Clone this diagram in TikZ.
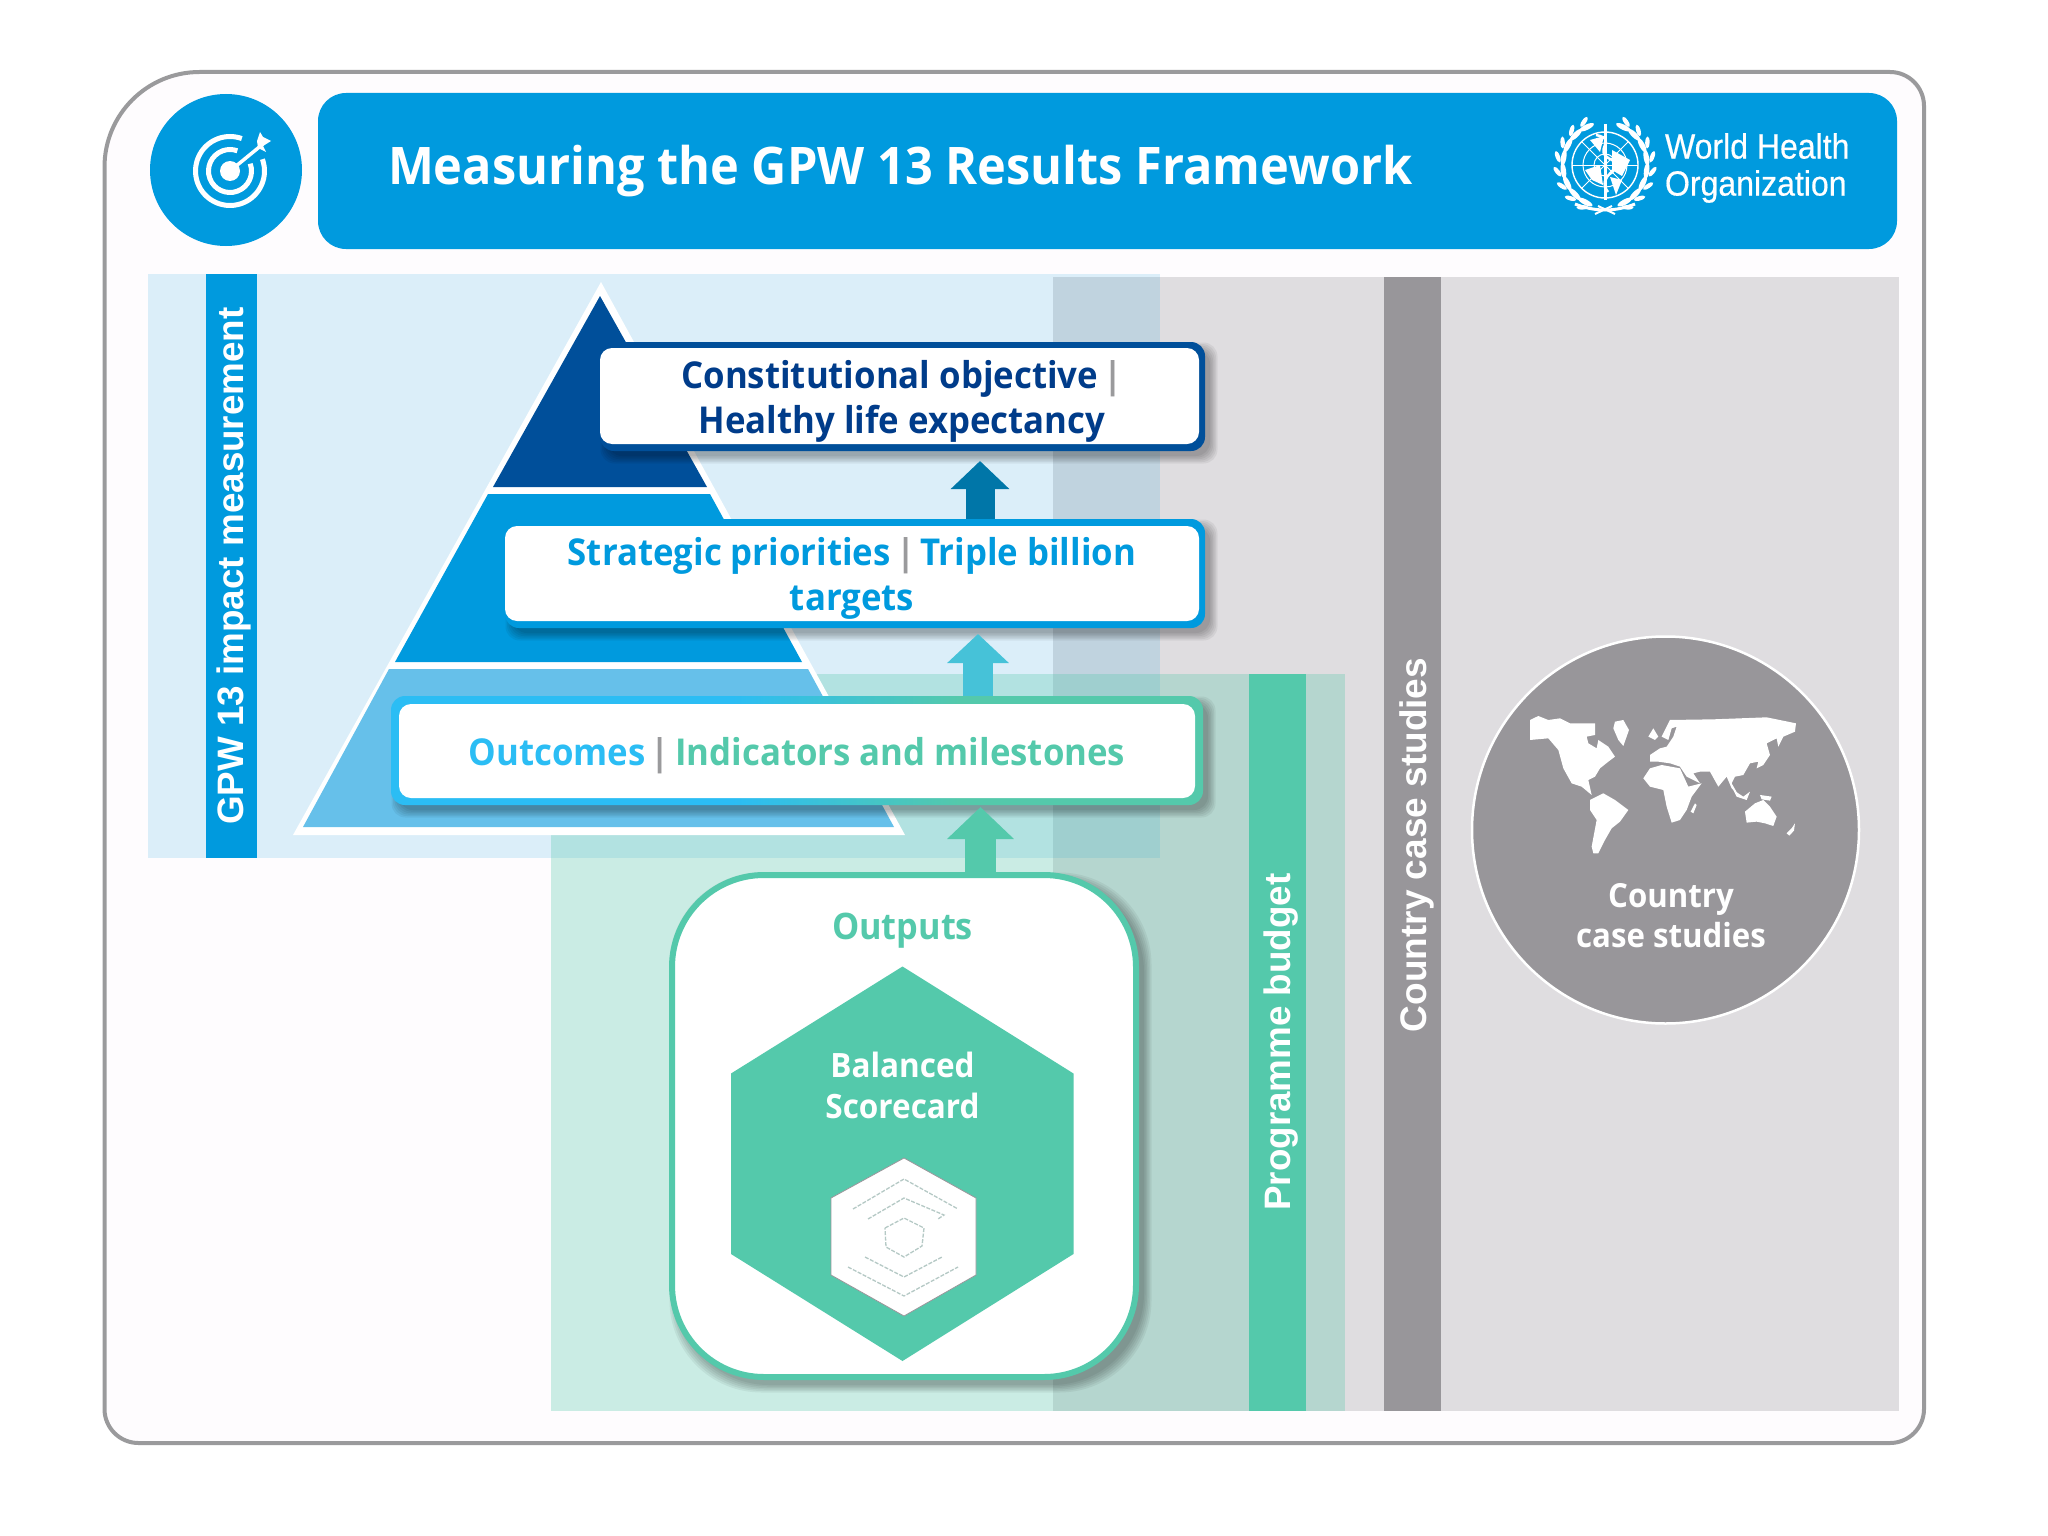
\documentclass[tikz,border=0pt]{standalone}
\usepackage{fontspec}
\setmainfont{Open Sans}[FakeStretch=0.94]
\newfontfamily\arialfont{Liberation Sans}
\newfontfamily\whofont{Liberation Sans}[FakeStretch=0.915,FakeBold=0.5]
\usetikzlibrary{arrows.meta,calc}
\definecolor{whoblue}{HTML}{009ADE}
\definecolor{navy}{HTML}{004F9A}
\definecolor{navytext}{HTML}{003C8A}
\definecolor{skyb}{HTML}{2BBDF4}
\definecolor{lightb}{HTML}{66C0EA}
\definecolor{teal}{HTML}{54C9AB}
\definecolor{greybar}{HTML}{98969A}
\definecolor{greypanel}{HTML}{DFDDE0}
\definecolor{sepgrey}{HTML}{9A9A9C}
\definecolor{framefill}{HTML}{FEFCFE}
\definecolor{arrowone}{HTML}{0076A8}
\definecolor{arrowtwo}{HTML}{46C2D8}
\pgfdeclarehorizontalshading{boxthree}{100bp}{color(0bp)=(skyb); color(46bp)=(skyb); color(60bp)=(teal); color(100bp)=(teal)}
\newcommand{\sepbar}{\hspace{.14em}\textcolor{sepgrey}{|}\hspace{.14em}}
\tikzset{
  flat/.style={draw=none,inner sep=0pt,outer sep=0pt},
  outerbox/.style={flat,rectangle,rounded corners=14pt},
  whitebox/.style={flat,rectangle,rounded corners=12pt,fill=white},
  boxfont/.style={flat,align=center,font=\fontsize{37}{45}\selectfont\bfseries},
  sidelabel/.style={flat,rotate=90,text=white,font=\fontsize{36.8}{40}\selectfont\arialfont\bfseries},
}
\newcommand{\softshadow}[5]{% x1 y1 x2 y2 radius
  \foreach \gr in {0,1.5,...,7.5}{
    \fill[black,opacity=0.055,rounded corners=#5] (#1+8-\gr,#2+8-\gr) rectangle (#3+5+\gr,#4+5+\gr);
  }}
\begin{document}
\begin{tikzpicture}[x=1pt,y=-1pt]
\useasboundingbox (0,0) rectangle (2048,1536);
\fill[white] (0,0) rectangle (2048,1536);
% outer frame
\path[draw=sepgrey,line width=4pt,fill=framefill]
  (104.5,167) arc[start angle=180,end angle=270,radius=95] -- (1890,72)
  arc[start angle=270,end angle=360,radius=34] -- (1924,1409)
  arc[start angle=0,end angle=90,radius=34] -- (138.5,1443)
  arc[start angle=90,end angle=180,radius=34] -- cycle;
% icon
\fill[whoblue] (226,170) circle[radius=76];
\draw[white,line width=5pt] (230,171) ++(-20:34.5) arc[start angle=-20,end angle=290,radius=34.5];
\node[flat,circle,fill=white,minimum size=20pt] (dot) at (230,171) {};
\draw[white,line width=5pt] (230,171) ++(-20:21.5) arc[start angle=-20,end angle=290,radius=21.5];
\coordinate (dart) at (263,144);
\draw[white,line width=3.5pt] (dot.center) -- (dart);
\fill[white] (257,141) -- (260,132) -- (263,137) -- (271,141) -- (263,146) -- (266,152) -- (258,148) -- cycle;
% header
\fill[whoblue,rounded corners=28pt] (318,93) rectangle (1897,249);
\node[flat,anchor=west,text=white,font=\fontsize{51.8}{54}\selectfont\bfseries] (title) at (388,171) {Measuring the GPW 13 Results Framework};
% WHO emblem
\begin{scope}[white]
\draw[line width=1.4pt] (1605,165) circle[radius=33];
\draw[line width=1pt] (1605,165) circle[radius=22];
\draw[line width=1pt] (1605,165) circle[radius=11];
\draw[line width=1pt] (1572,165) -- (1638,165);
\draw[line width=1pt] (1582,142) -- (1628,188);
\draw[line width=1pt] (1628,142) -- (1582,188);
\draw[line width=3pt] (1605,124) -- (1605,200);
\draw[line width=2.5pt] (1596,135) .. controls (1620,140) and (1590,150) .. (1612,160) .. controls (1625,170) and (1595,175) .. (1608,192);
\fill (1585,170) -- (1600,165) -- (1603,185) -- (1592,180) -- cycle;
\fill (1612,150) -- (1630,160) -- (1622,176) -- (1612,170) -- cycle;
\fill (1610,177) -- (1622,180) -- (1616,195) -- cycle;
\fill (1590,140) -- (1604,136) -- (1600,152) -- cycle;
\foreach \a in {-62,-44,-26,-8,10,28,46,64}{
  \fill[shift={({1605+42*cos(\a)},{165-42*sin(\a)})},rotate=\a+90] (0,0) ellipse[x radius=8,y radius=2.7];
  \fill[shift={({1605-42*cos(\a)},{165-42*sin(\a)})},rotate=90-\a] (0,0) ellipse[x radius=8,y radius=2.7];
  \fill[shift={({1605+48*cos(\a)},{165-48*sin(\a)})},rotate=\a+60] (0,0) ellipse[x radius=6,y radius=2.2];
  \fill[shift={({1605-48*cos(\a)},{165-48*sin(\a)})},rotate=120-\a] (0,0) ellipse[x radius=6,y radius=2.2];
}
\draw[line width=3pt] (1575,204) .. controls (1595,212) and (1615,212) .. (1635,204);
\draw[line width=2pt] (1612,206) -- (1595,214);
\draw[line width=2pt] (1598,206) -- (1615,214);
\end{scope}
\node[flat,anchor=west,text=white,align=left,font=\fontsize{35}{37}\selectfont\whofont] (who) at (1665,168) {World Health\\Organization};
% panels
\fill[greypanel] (1053,277) rectangle (1899,1411);
\fill[whoblue,opacity=0.137] (148,274) rectangle (1160,858);
\fill[teal,opacity=0.3] (551,674) rectangle (1345,1411);
\node[flat,fill=whoblue,minimum width=51pt,minimum height=584pt] (gpwbar) at (231.5,566) {};
\node[sidelabel] (gpwtext) at (234,566) {GPW 13 impact measurement};
\node[flat,fill=teal,minimum width=57pt,minimum height=737pt] (pbbar) at (1277.5,1042.5) {};
\node[sidelabel] (pbtext) at (1281,1042) {Programme budget};
\node[flat,fill=greybar,minimum width=57pt,minimum height=1134pt] (ccbar) at (1412.5,844) {};
\node[sidelabel,font=\fontsize{37}{40}\selectfont\arialfont\bfseries] (cctext) at (1417,845) {Country case studies};
% pyramid
\fill[white] (601,282) -- (293,835) -- (905,835) -- cycle;
\fill[navy] (600,296) -- (493,487) -- (707,487) -- cycle;
\fill[whoblue] (488,494) -- (710,494) -- (802,662) -- (395,662) -- cycle;
\fill[lightb] (389,669) -- (808,669) -- (894,827) -- (303,827) -- cycle;
% boxes
\softshadow{600}{342}{1205}{451}{14pt}
\softshadow{505}{519}{1205}{628}{14pt}
\softshadow{391}{696}{1203}{805}{14pt}
\node[outerbox,fill=navy,minimum width=605pt,minimum height=109pt] (b1o) at (902.5,396.5) {};
\node[whitebox,minimum width=599pt,minimum height=96pt] (b1) at (899.5,396) {};
\node[boxfont] (b1t) at (902,401) {\textcolor{navytext}{Constitutional objective}\sepbar\\\textcolor{navytext}{Healthy life expectancy}};
\node[outerbox,fill=whoblue,minimum width=700pt,minimum height=109pt] (b2o) at (855,573.5) {};
\node[whitebox,minimum width=694pt,minimum height=95pt] (b2) at (852,573.5) {};
\node[boxfont,text=whoblue] (b2t) at (852,578.5) {Strategic priorities\sepbar Triple billion\\targets};
\node[outerbox,shading=boxthree,minimum width=812pt,minimum height=109pt] (b3o) at (797,750.5) {};
\node[whitebox,minimum width=796pt,minimum height=94pt] (b3) at (797,751) {};
\node[boxfont] (b3t) at (797,756) {\textcolor{skyb}{Outcomes}\sepbar\textcolor{teal}{Indicators and milestones}};
% outputs box
\softshadow{669}{872}{1139}{1380}{92pt}
\node[flat,rectangle,rounded corners=92pt,draw=teal,line width=6pt,fill=white,minimum width=464pt,minimum height=502pt] (out) at (904,1126) {};
% arrows
\coordinate (a1) at (980,519);
\coordinate (a2) at (978,696);
\coordinate (a3) at (980.5,872);
\draw[line width=29pt,draw=arrowone,-{Triangle[length=28pt,width=57pt]},shorten >=10pt] (a1) -- (a1 |- b1o.south);
\draw[line width=30pt,draw=arrowtwo,-{Triangle[length=29pt,width=60pt]},shorten >=6pt] (a2) -- (a2 |- b2o.south);
\draw[line width=31pt,draw=teal,-{Triangle[length=32pt,width=65pt]},shorten >=2pt] (a3) -- (a3 |- b3o.south);
% hexagon
\fill[teal] (902.5,966.5) -- (1073.5,1073.5) -- (1073.5,1254) -- (902.5,1361) -- (731,1254) -- (731,1073.5) -- cycle;
\node[flat,text=teal,font=\fontsize{36.5}{40}\selectfont\bfseries] (outlabel) at (902.5,931) {Outputs};
\node[flat,text=white,align=center,font=\fontsize{33.5}{41}\selectfont\bfseries] (bsc) at (902.5,1085) {Balanced\\Scorecard};
% scorecard emblem
\fill[white] (904,1158) -- (976,1198) -- (976,1275) -- (904,1316) -- (831,1275) -- (831,1198) -- cycle;
\draw[greybar,line width=.8pt] (904,1158) -- (976,1198) -- (976,1275) -- (904,1316) -- (831,1275) -- (831,1198) -- cycle;
\begin{scope}[greybar!70!teal,line width=1.3pt,dash pattern=on 4pt off 1.5pt,opacity=0.6]
\draw (853,1209) -- (904,1179) -- (958,1209);
\draw (868,1219) -- (904,1198) -- (944,1215) -- (938,1219);
\draw (885,1228) -- (904,1218) -- (924,1228) -- (922,1246) -- (904,1257) -- (886,1247) -- cycle;
\draw (865,1257) -- (904,1277) -- (942,1257);
\draw (848,1267) -- (904,1296) -- (958,1267);
\end{scope}
% country circle
\node[flat,circle,fill=greybar,draw=white,line width=2.5pt,minimum size=387pt] (cc) at (1665.5,830) {};
\begin{scope}[shift={(1480,640)},x=0.3333pt,y=-0.3333pt,white,line join=round]
\fill (150,240) -- (175,228) -- (205,240) -- (240,235) -- (270,250) -- (345,250) -- (345,285) -- (320,290) -- (325,310) -- (350,325) -- (355,300) -- (385,320) -- (405,350) -- (385,365) -- (360,385) -- (345,410) -- (325,420) -- (335,465) -- (305,440) -- (275,430) -- (250,385) -- (235,330) -- (205,295) -- (150,300) -- cycle;
\fill (330,480) -- (370,460) -- (405,480) -- (445,510) -- (420,545) -- (395,565) -- (375,600) -- (355,640) -- (340,640) -- (335,620) -- (350,540) -- (330,510) -- cycle;
\fill (405,245) -- (430,240) -- (447,270) -- (430,318) -- (415,300) -- (400,265) -- cycle;
\fill (505,290) -- (520,265) -- (535,290) -- (525,300) -- cycle;
\fill (545,290) -- (570,240) -- (700,238) -- (860,232) -- (948,250) -- (945,275) -- (910,290) -- (895,320) -- (890,295) -- (860,310) -- (870,345) -- (850,375) -- (830,385) -- (835,365) -- (810,370) -- (790,405) -- (765,410) -- (755,430) -- (775,465) -- (755,445) -- (740,410) -- (715,440) -- (690,395) -- (660,395) -- (640,400) -- (660,430) -- (620,410) -- (600,380) -- (570,370) -- (535,365) -- (510,365) -- (510,345) -- (540,325) -- (560,320) -- (580,290) -- (590,260) -- (575,265) -- (565,300) -- cycle;
\fill (490,415) -- (510,385) -- (545,375) -- (600,385) -- (625,440) -- (665,430) -- (635,470) -- (620,510) -- (600,540) -- (575,548) -- (560,500) -- (550,450) -- (510,440) -- cycle;
\fill (632,515) -- (645,490) -- (650,495) -- (640,520) -- cycle;
\fill (795,515) -- (825,490) -- (850,480) -- (870,500) -- (890,530) -- (880,558) -- (855,550) -- (830,545) -- (800,548) -- cycle;
\fill (920,580) -- (935,565) -- (945,550) -- (942,572) -- (928,587) -- cycle;
\fill (760,450) -- (790,470) -- (810,455) -- (800,480) -- (770,470) -- cycle;
\fill (840,465) -- (875,470) -- (870,482) -- (845,478) -- cycle;
\fill (845,345) -- (862,320) -- (860,345) -- (840,378) -- cycle;
\end{scope}
\node[flat,text=white,align=center,font=\fontsize{33.2}{40}\selectfont\bfseries] (cctitle) at (1671,916) {Country\\case studies};
\end{tikzpicture}
\end{document}
